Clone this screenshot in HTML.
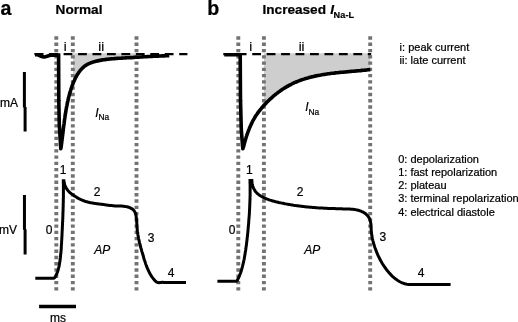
<!DOCTYPE html>
<html>
<head>
<meta charset="utf-8">
<title>Late sodium current</title>
<style>
html,body{margin:0;padding:0;background:#fff;}
body{width:518px;height:322px;overflow:hidden;}
svg{display:block;}
text{font-family:"Liberation Sans",Arial,Helvetica,sans-serif;fill:#000;stroke:#000;stroke-width:0.22px;}
.dot{stroke:#737373;stroke-width:3.9;stroke-dasharray:3.35 2.92;fill:none;}
.cur{stroke:#000;stroke-width:3.6;fill:none;stroke-linecap:butt;stroke-linejoin:round;}
.ap{stroke:#000;stroke-width:3.0;fill:none;stroke-linecap:butt;stroke-linejoin:bevel;}
.dash{stroke:#000;stroke-width:2.4;stroke-dasharray:8.8 5.65;fill:none;}
.bar{stroke:#000;stroke-width:3.0;fill:none;}
.lbl{font-size:12px;}
.leg{font-size:11px;}
.sub{font-size:8.4px;font-style:normal;}
.ttl{font-size:13.6px;font-weight:bold;}
.pan{font-size:19.6px;font-weight:bold;}
</style>
</head>
<body>
<svg width="518" height="322" viewBox="0 0 518 322">
<rect width="518" height="322" fill="#fff"/>

<!-- panel titles -->
<text class="pan" x="0.4" y="14.7">a</text>
<text class="ttl" x="55.6" y="13.9">Normal</text>
<text class="pan" x="207.3" y="14.6">b</text>
<text class="ttl" x="262.5" y="14.3">Increased <tspan font-style="italic" dx="0.6">I</tspan></text>
<text x="333.6" y="17.7" font-size="9.1" font-weight="bold" letter-spacing="0.1">Na-L</text>

<!-- shaded areas -->
<path d="M73.1,53.3 L136.8,53.3 L136.8,57.3 L136.5,57.3 L135.3,57.3 L134.1,57.4 L132.9,57.5 L131.6,57.6 L130.4,57.6 L129.2,57.7 L128.0,57.8 L126.8,57.8 L125.6,57.9 L124.4,58.0 L123.2,58.0 L121.9,58.1 L120.7,58.2 L119.5,58.2 L118.3,58.3 L117.1,58.4 L115.8,58.5 L114.6,58.6 L113.4,58.7 L112.2,58.8 L111.0,58.9 L109.8,59.0 L108.5,59.1 L107.3,59.2 L106.1,59.4 L104.9,59.6 L103.7,59.7 L102.5,59.9 L101.3,60.1 L100.1,60.4 L98.9,60.6 L97.7,60.9 L96.5,61.1 L95.3,61.4 L94.1,61.8 L93.0,62.1 L91.8,62.5 L90.7,62.9 L89.6,63.4 L88.5,63.9 L87.4,64.4 L86.4,65.0 L85.4,65.6 L84.4,66.3 L83.5,67.1 L82.6,67.9 L81.8,68.7 L81.0,69.6 L80.2,70.5 L79.5,71.5 L78.8,72.4 L78.1,73.5 L77.4,74.5 L76.8,75.5 L76.2,76.6 L75.6,77.7 L75.1,78.7 L74.6,79.9 L74.1,81.0 L73.6,82.1 L73.1,83.2 Z" fill="#cecece"/>
<path d="M263.9,53.3 L370.3,53.3 L370.3,69.6 L370.3,69.6 L369.1,69.7 L367.9,69.8 L366.7,70.0 L365.5,70.1 L364.3,70.2 L363.1,70.3 L361.9,70.4 L360.7,70.6 L359.5,70.7 L358.3,70.8 L357.1,70.9 L355.9,71.0 L354.7,71.1 L353.5,71.2 L352.3,71.3 L351.1,71.4 L349.9,71.5 L348.7,71.6 L347.5,71.7 L346.3,71.9 L345.0,72.0 L343.8,72.1 L342.6,72.2 L341.4,72.3 L340.2,72.4 L339.0,72.5 L337.8,72.7 L336.6,72.8 L335.3,72.9 L334.1,73.1 L332.9,73.2 L331.7,73.3 L330.5,73.5 L329.3,73.7 L328.1,73.8 L326.9,74.0 L325.7,74.2 L324.5,74.4 L323.3,74.5 L322.1,74.7 L320.9,75.0 L319.7,75.2 L318.5,75.4 L317.4,75.6 L316.2,75.9 L315.0,76.1 L313.8,76.4 L312.7,76.7 L311.5,76.9 L310.3,77.2 L309.2,77.5 L308.0,77.9 L306.9,78.2 L305.7,78.5 L304.6,78.9 L303.4,79.3 L302.3,79.6 L301.2,80.0 L300.1,80.4 L298.9,80.9 L297.8,81.3 L296.7,81.8 L295.6,82.2 L294.5,82.7 L293.4,83.2 L292.3,83.7 L291.3,84.3 L290.2,84.8 L289.1,85.4 L288.1,86.0 L287.0,86.5 L286.0,87.2 L284.9,87.8 L283.9,88.4 L282.9,89.1 L281.8,89.8 L280.8,90.5 L279.8,91.2 L278.8,91.9 L277.9,92.6 L276.9,93.4 L275.9,94.1 L275.0,94.9 L274.0,95.7 L273.1,96.4 L272.2,97.3 L271.3,98.1 L270.4,98.9 L269.5,99.7 L268.6,100.6 L267.7,101.4 L266.8,102.3 L266.0,103.2 L265.2,104.1 L264.3,104.9 L263.9,105.2 Z" fill="#cecece"/>

<!-- dotted verticals panel a -->
<path class="dot" d="M56.3,36.35 V290.5"/>
<path class="dot" d="M72.8,36.35 V290.5"/>
<path class="dot" d="M136.5,36.35 V290.5"/>
<!-- dotted verticals panel b -->
<path class="dot" d="M238.3,36.35 V290.5"/>
<path class="dot" d="M263.9,36.35 V290.5"/>
<path class="dot" d="M370.2,36.35 V290.5"/>

<!-- dashed baselines -->
<path class="dash" d="M34.7,54.1 H187.4"/>
<path class="dash" d="M223.3,54.1 H371.2"/>

<!-- current traces -->
<path class="cur" style="stroke-linejoin:miter" d="M34.8,55.0 L35.7,54.7 L36.5,54.7 L37.4,54.8 L38.2,55.0 L39.0,55.4 L39.7,55.7 L40.5,56.1 L41.3,56.4 L42.1,56.7 L42.9,56.8 L43.7,56.9 L44.5,56.9 L45.4,56.7 L46.2,56.5 L47.0,56.3 L47.8,56.0 L48.6,55.7 L49.4,55.5 L50.2,55.3 L51.0,55.2 L51.9,55.1 L52.7,55.1 L53.5,55.1 L54.4,55.1 L55.2,55.1 L56.1,55.1 L56.9,55.1 L57.8,55.1 L58.6,55.1 L58.8,101"/>
<path class="cur" d="M58.8,100.0 L59.3,125.0 L60.8,148.8 L61.0,147.6 L61.2,146.4 L61.4,145.2 L61.5,144.0 L61.7,142.8 L61.8,141.5 L62.0,140.3 L62.1,139.1 L62.3,137.9 L62.4,136.7 L62.6,135.5 L62.7,134.3 L62.9,133.1 L63.0,131.9 L63.2,130.7 L63.3,129.5 L63.4,128.3 L63.6,127.1 L63.7,125.9 L63.9,124.7 L64.1,123.5 L64.2,122.3 L64.4,121.1 L64.5,119.9 L64.7,118.7 L64.9,117.5 L65.0,116.3 L65.2,115.1 L65.4,113.9 L65.6,112.7 L65.8,111.5 L66.0,110.3 L66.2,109.2 L66.4,108.0 L66.6,106.8 L66.9,105.6 L67.1,104.4 L67.3,103.2 L67.6,102.0 L67.9,100.9 L68.1,99.7 L68.4,98.5 L68.7,97.3 L69.0,96.1 L69.3,94.9 L69.6,93.8 L70.0,92.6 L70.3,91.4 L70.7,90.2 L71.0,89.0 L71.4,87.9 L71.8,86.7 L72.2,85.5 L72.7,84.4 L73.1,83.2 L73.6,82.1 L74.1,81.0 L74.6,79.9 L75.1,78.7 L75.6,77.7 L76.2,76.6 L76.8,75.5 L77.4,74.5 L78.1,73.5 L78.8,72.4 L79.5,71.5 L80.2,70.5 L81.0,69.6 L81.8,68.7 L82.6,67.9 L83.5,67.1 L84.4,66.3 L85.4,65.6 L86.4,65.0 L87.4,64.4 L88.5,63.9 L89.6,63.4 L90.7,62.9 L91.8,62.5 L93.0,62.1 L94.1,61.8 L95.3,61.4 L96.5,61.1 L97.7,60.9 L98.9,60.6 L100.1,60.4 L101.3,60.1 L102.5,59.9 L103.7,59.7 L104.9,59.6 L106.1,59.4 L107.3,59.2 L108.5,59.1 L109.8,59.0 L111.0,58.9 L112.2,58.8 L113.4,58.7 L114.6,58.6 L115.8,58.5 L117.1,58.4 L118.3,58.3 L119.5,58.2 L120.7,58.2 L121.9,58.1 L123.2,58.0 L124.4,58.0 L125.6,57.9 L126.8,57.8 L128.0,57.8 L129.2,57.7 L130.4,57.6 L131.6,57.6 L132.9,57.5 L134.1,57.4 L135.3,57.3 L136.5,57.3 L137.7,57.2 L138.9,57.1 L140.1,57.0 L141.3,57.0 L142.5,56.9 L143.7,56.8 L144.9,56.8 L146.1,56.7 L147.4,56.6 L148.6,56.5 L149.8,56.5 L151.0,56.4 L152.2,56.4 L153.4,56.3 L154.6,56.2 L155.8,56.2 L157.0,56.1 L158.2,56.1 L159.5,56.0 L160.7,56.0 L161.9,55.9 L163.1,55.9 L164.3,55.9 L165.5,55.8 L166.8,55.8 L168.0,55.8 L169.2,55.7"/>
<path class="cur" style="stroke-linejoin:miter" d="M224.3,54.7 L240.2,54.8 L240.5,101"/>
<path class="cur" d="M240.5,100.0 L241.3,130.0 L242.8,148.8 L243.2,147.7 L243.6,146.5 L243.9,145.3 L244.2,144.2 L244.5,143.0 L244.8,141.8 L245.2,140.6 L245.5,139.5 L245.9,138.3 L246.2,137.1 L246.6,136.0 L247.0,134.8 L247.4,133.7 L247.8,132.5 L248.2,131.4 L248.6,130.3 L249.1,129.1 L249.5,128.0 L250.0,126.9 L250.5,125.8 L251.0,124.7 L251.5,123.6 L252.0,122.6 L252.5,121.5 L253.1,120.4 L253.7,119.4 L254.3,118.4 L254.9,117.3 L255.5,116.3 L256.2,115.3 L256.9,114.3 L257.5,113.4 L258.2,112.4 L258.9,111.4 L259.7,110.5 L260.4,109.5 L261.2,108.6 L261.9,107.7 L262.7,106.8 L263.5,105.8 L264.3,104.9 L265.2,104.1 L266.0,103.2 L266.8,102.3 L267.7,101.4 L268.6,100.6 L269.5,99.7 L270.4,98.9 L271.3,98.1 L272.2,97.3 L273.1,96.4 L274.0,95.7 L275.0,94.9 L275.9,94.1 L276.9,93.4 L277.9,92.6 L278.8,91.9 L279.8,91.2 L280.8,90.5 L281.8,89.8 L282.9,89.1 L283.9,88.4 L284.9,87.8 L286.0,87.2 L287.0,86.5 L288.1,86.0 L289.1,85.4 L290.2,84.8 L291.3,84.3 L292.3,83.7 L293.4,83.2 L294.5,82.7 L295.6,82.2 L296.7,81.8 L297.8,81.3 L298.9,80.9 L300.1,80.4 L301.2,80.0 L302.3,79.6 L303.4,79.3 L304.6,78.9 L305.7,78.5 L306.9,78.2 L308.0,77.9 L309.2,77.5 L310.3,77.2 L311.5,76.9 L312.7,76.7 L313.8,76.4 L315.0,76.1 L316.2,75.9 L317.4,75.6 L318.5,75.4 L319.7,75.2 L320.9,75.0 L322.1,74.7 L323.3,74.5 L324.5,74.4 L325.7,74.2 L326.9,74.0 L328.1,73.8 L329.3,73.7 L330.5,73.5 L331.7,73.3 L332.9,73.2 L334.1,73.1 L335.3,72.9 L336.6,72.8 L337.8,72.7 L339.0,72.5 L340.2,72.4 L341.4,72.3 L342.6,72.2 L343.8,72.1 L345.0,72.0 L346.3,71.9 L347.5,71.7 L348.7,71.6 L349.9,71.5 L351.1,71.4 L352.3,71.3 L353.5,71.2 L354.7,71.1 L355.9,71.0 L357.1,70.9 L358.3,70.8 L359.5,70.7 L360.7,70.6 L361.9,70.4 L363.1,70.3 L364.3,70.2 L365.5,70.1 L366.7,70.0 L367.9,69.8 L369.1,69.7 L370.3,69.6"/>
<!-- action potentials -->
<path class="ap" d="M35.3,278.3 L54.0,278.3 L54.9,277.4 L55.5,276.4 L56.1,275.3 L56.6,274.2 L57.0,273.1 L57.5,272.0 L57.9,270.8 L58.2,269.7 L58.5,268.5 L58.8,267.3 L59.1,266.1 L59.3,264.9 L59.5,263.7 L59.7,262.5 L59.9,261.3 L60.1,260.1 L60.2,258.9 L60.4,257.7 L60.5,256.4 L60.6,255.2 L60.7,254.0 L60.9,252.8 L61.0,251.6 L61.1,250.3 L61.2,249.1 L61.3,247.9 L61.3,246.6 L61.4,245.4 L61.5,244.2 L61.6,243.0 L61.6,241.7 L61.7,240.5 L61.8,239.3 L61.8,238.1 L61.9,236.8 L62.0,235.6 L62.0,234.4 L62.1,233.1 L62.1,231.9 L62.2,230.7 L62.3,229.5 L62.3,228.2 L62.4,227.0 L62.4,225.8 L62.5,224.6 L62.5,223.4 L62.6,222.1 L62.7,220.9 L62.7,219.7 L62.8,218.5 L62.8,217.2 L62.9,216.0 L62.9,214.8 L62.9,213.6 L63.0,212.4 L63.0,211.1 L63.1,209.9 L63.1,208.7 L63.1,207.5 L63.2,206.3 L63.2,205.0 L63.2,203.8 L63.3,202.6 L63.3,201.4 L63.3,200.1 L63.3,198.9 L63.4,197.7 L63.4,196.5 L63.4,195.3 L63.4,194.0 L63.4,192.8 L63.4,191.6 L63.4,190.4 L63.4,189.1 L63.4,187.9 L63.4,186.7 L63.4,185.4 L63.4,184.2 L63.3,183.0 L63.3,181.8 L63.3,180.5 L63.3,179.3 M63.8,179.3 L63.8,180.3 L63.9,181.3 L64.1,182.3 L64.3,183.3 L64.6,184.3 L64.9,185.3 L65.3,186.2 L65.7,187.1 L66.2,188.0 L66.7,188.9 L67.3,189.7 L67.9,190.5 L68.6,191.2 L69.3,192.0 L70.0,192.7 L70.8,193.3 L71.6,193.9 L72.4,194.6 L73.2,195.1 L74.1,195.7 L74.9,196.3 L75.8,196.8 L76.6,197.3 L77.5,197.9 L78.4,198.4 L79.3,198.8 L80.2,199.3 L81.1,199.7 L82.0,200.1 L82.9,200.5 L83.9,200.8 L84.8,201.2 L85.8,201.5 L86.7,201.7 L87.7,202.0 L88.7,202.2 L89.7,202.5 L90.7,202.7 L91.7,202.9 L92.7,203.0 L93.7,203.2 L94.7,203.4 L95.7,203.5 L96.7,203.7 L97.7,203.8 L98.7,203.9 L99.7,204.1 L100.7,204.2 L101.8,204.3 L102.8,204.5 L103.8,204.6 L104.8,204.7 L105.8,204.9 L106.7,205.0 L107.7,205.2 L108.7,205.3 L109.7,205.4 L110.7,205.5 L111.7,205.6 L112.7,205.7 L113.7,205.8 L114.7,205.9 L115.8,205.9 L116.8,205.9 L117.8,206.0 L118.8,206.0 L119.8,206.0 L120.8,206.1 L121.8,206.1 L122.9,206.2 L123.9,206.3 L124.9,206.4 L125.9,206.6 L126.9,206.8 L127.8,207.0 L128.8,207.3 L129.8,207.7 L130.7,208.1 L131.6,208.6 L132.5,209.1 L133.2,209.8 L133.9,210.5 L134.5,211.3 L134.9,212.1 L135.3,213.0 L135.6,214.0 L135.9,215.0 L136.1,216.0 L136.2,217.1 L136.4,218.1 L136.5,219.2 L136.6,220.2 L136.7,221.2 L136.7,222.2 L136.8,223.3 L136.9,224.3 L136.9,225.3 L137.0,226.3 L137.1,227.3 L137.1,228.3 L137.2,229.3 L137.3,230.3 L137.4,231.2 L137.6,232.2 L137.7,233.2 L137.8,234.2 L138.0,235.2 L138.2,236.2 L138.3,237.2 L138.5,238.1 L138.7,239.1 L139.0,240.1 L139.2,241.1 L139.4,242.1 L139.6,243.1 L139.9,244.0 L140.1,245.0 L140.4,246.0 L140.6,247.0 L140.9,248.0 L141.2,248.9 L141.5,249.9 L141.7,250.9 L142.0,251.9 L142.3,252.8 L142.6,253.8 L142.9,254.8 L143.2,255.8 L143.5,256.8 L143.7,257.7 L144.0,258.7 L144.3,259.7 L144.7,260.7 L145.0,261.6 L145.3,262.6 L145.6,263.6 L145.9,264.5 L146.3,265.5 L146.6,266.4 L147.0,267.4 L147.4,268.3 L147.8,269.2 L148.2,270.1 L148.6,271.0 L149.1,271.9 L149.5,272.8 L150.0,273.7 L150.5,274.6 L151.0,275.4 L151.6,276.3 L152.1,277.1 L152.7,277.9 L153.3,278.7 L154.0,279.5 L154.6,280.3 L155.3,281.0 L156.1,281.7 L156.9,282.2 L157.9,282.6 L158.9,282.7 L160.0,282.6 L161.2,282.5 L162.3,282.3 L163.3,282.3 L164.0,282.6 L186.0,282.6"/>
<path class="ap" d="M217.4,281.3 L236.6,281.3 L237.4,280.3 L237.9,279.2 L238.4,278.1 L238.9,277.0 L239.4,275.9 L239.8,274.7 L240.3,273.6 L240.7,272.5 L241.1,271.3 L241.4,270.2 L241.8,269.0 L242.1,267.8 L242.4,266.7 L242.7,265.5 L243.0,264.3 L243.3,263.1 L243.6,261.9 L243.8,260.7 L244.1,259.5 L244.3,258.3 L244.5,257.1 L244.7,255.9 L244.9,254.7 L245.1,253.5 L245.3,252.3 L245.5,251.1 L245.7,249.9 L245.9,248.6 L246.0,247.4 L246.2,246.2 L246.4,245.0 L246.5,243.8 L246.7,242.6 L246.8,241.3 L247.0,240.1 L247.1,238.9 L247.2,237.7 L247.4,236.5 L247.5,235.3 L247.6,234.0 L247.8,232.8 L247.9,231.6 L248.0,230.4 L248.1,229.2 L248.2,227.9 L248.3,226.7 L248.4,225.5 L248.5,224.3 L248.7,223.1 L248.7,221.8 L248.8,220.6 L248.9,219.4 L249.0,218.2 L249.1,217.0 L249.2,215.8 L249.3,214.5 L249.4,213.3 L249.4,212.1 L249.5,210.9 L249.6,209.7 L249.6,208.4 L249.7,207.2 L249.7,206.0 L249.8,204.8 L249.8,203.6 L249.9,202.3 L249.9,201.1 L250.0,199.9 L250.0,198.7 L250.0,197.5 L250.1,196.2 L250.1,195.0 L250.1,193.8 L250.1,192.6 L250.1,191.4 L250.1,190.1 L250.1,188.9 L250.1,187.7 L250.1,186.5 L250.1,185.2 L250.1,184.0 L250.0,182.8 L250.0,181.5 L250.0,180.3 L250.0,179.1 M251.8,179.1 L251.8,180.1 L251.9,181.1 L252.0,182.1 L252.1,183.2 L252.3,184.2 L252.5,185.2 L252.8,186.2 L253.1,187.1 L253.5,188.1 L253.9,189.0 L254.4,189.8 L254.9,190.7 L255.5,191.5 L256.1,192.2 L256.8,192.9 L257.5,193.6 L258.3,194.3 L259.1,194.9 L259.9,195.4 L260.8,196.0 L261.6,196.5 L262.5,197.0 L263.4,197.5 L264.4,197.9 L265.3,198.3 L266.2,198.7 L267.2,199.1 L268.1,199.4 L269.1,199.8 L270.0,200.1 L271.0,200.4 L272.0,200.7 L273.0,201.0 L274.0,201.2 L274.9,201.5 L275.9,201.8 L276.9,202.0 L277.9,202.2 L278.9,202.5 L279.9,202.7 L280.9,202.9 L281.9,203.1 L282.9,203.3 L283.9,203.5 L284.8,203.7 L285.8,203.9 L286.8,204.1 L287.8,204.3 L288.8,204.5 L289.8,204.6 L290.8,204.8 L291.8,205.0 L292.8,205.1 L293.8,205.3 L294.8,205.4 L295.8,205.6 L296.8,205.7 L297.8,205.8 L298.8,206.0 L299.8,206.1 L300.8,206.2 L301.7,206.3 L302.7,206.5 L303.7,206.6 L304.7,206.7 L305.7,206.8 L306.7,206.9 L307.7,207.0 L308.7,207.1 L309.7,207.2 L310.7,207.3 L311.7,207.3 L312.7,207.4 L313.7,207.5 L314.7,207.6 L315.7,207.7 L316.7,207.7 L317.7,207.8 L318.8,207.9 L319.8,207.9 L320.8,208.0 L321.8,208.0 L322.8,208.1 L323.8,208.2 L324.8,208.2 L325.8,208.3 L326.8,208.3 L327.8,208.4 L328.8,208.4 L329.8,208.4 L330.8,208.5 L331.8,208.5 L332.9,208.6 L333.9,208.6 L334.9,208.6 L335.9,208.7 L336.9,208.7 L337.9,208.7 L338.9,208.8 L339.9,208.8 L341.0,208.8 L342.0,208.8 L343.0,208.9 L344.0,208.9 L345.0,208.9 L346.1,208.9 L347.1,209.0 L348.1,209.0 L349.1,209.0 L350.1,209.1 L351.1,209.2 L352.1,209.2 L353.2,209.3 L354.2,209.5 L355.2,209.6 L356.1,209.8 L357.1,210.0 L358.1,210.2 L359.1,210.5 L360.0,210.8 L361.0,211.2 L361.9,211.6 L362.9,212.0 L363.8,212.5 L364.6,213.1 L365.5,213.6 L366.2,214.3 L367.0,215.0 L367.6,215.7 L368.2,216.5 L368.8,217.3 L369.3,218.1 L369.7,219.0 L370.0,220.0 L370.3,220.9 L370.5,221.9 L370.7,222.9 L370.9,223.9 L371.0,224.9 L371.0,225.9 L371.1,226.9 L371.1,228.0 L371.2,229.0 L371.2,230.0 L371.3,231.1 L371.4,232.1 L371.5,233.1 L371.6,234.1 L371.8,235.1 L371.9,236.1 L372.1,237.1 L372.3,238.1 L372.5,239.1 L372.8,240.1 L373.0,241.1 L373.3,242.1 L373.5,243.0 L373.8,244.0 L374.1,244.9 L374.4,245.9 L374.7,246.9 L375.0,247.8 L375.4,248.8 L375.7,249.7 L376.1,250.6 L376.4,251.6 L376.8,252.5 L377.2,253.4 L377.6,254.4 L378.0,255.3 L378.4,256.2 L378.9,257.1 L379.3,258.0 L379.8,258.9 L380.2,259.8 L380.7,260.7 L381.2,261.5 L381.7,262.4 L382.2,263.3 L382.7,264.1 L383.3,265.0 L383.8,265.8 L384.4,266.7 L385.0,267.5 L385.6,268.3 L386.2,269.2 L386.8,270.0 L387.4,270.8 L388.1,271.6 L388.7,272.4 L389.4,273.1 L390.1,273.9 L390.8,274.6 L391.5,275.4 L392.2,276.1 L393.0,276.8 L393.7,277.5 L394.5,278.1 L395.3,278.7 L396.1,279.3 L396.9,279.9 L397.7,280.5 L398.6,281.0 L399.4,281.5 L400.3,282.0 L401.2,282.4 L402.1,282.8 L403.0,283.1 L403.9,283.5 L404.9,283.8 L405.9,284.0 L406.8,284.2 L407.8,284.4 L408.9,284.5 L409.9,284.6 L410.9,284.6 L412.0,284.6 L413.0,284.5 L450.6,284.5"/>

<!-- scale bars -->
<path class="bar" d="M24.4,71.9 V107.6 M25.1,107.0 V131.5"/>
<path class="bar" d="M24.45,194.9 V229.8 M25.1,229.2 V254.5"/>
<path class="bar" style="stroke-width:3.4" d="M39.1,306.5 H76"/>

<!-- axis unit labels -->
<text class="lbl" x="0" y="106.8">mA</text>
<text class="lbl" x="-0.9" y="234.4">mV</text>
<text class="lbl" x="49.9" y="321.5">ms</text>

<!-- phase markers for current -->
<text class="lbl" x="63.65" y="51.3" style="font-size:13px">i</text>
<text class="lbl" x="98.25" y="51.3" style="font-size:13px">ii</text>
<text class="lbl" x="249.35" y="51.3" style="font-size:13px">i</text>
<text class="lbl" x="298.7" y="51.3" style="font-size:13px">ii</text>

<text class="lbl" x="95.2" y="117" font-style="italic">I</text>
<text class="sub" x="98.5" y="120.1">Na</text>
<text class="lbl" x="305.2" y="110.7" font-style="italic">I</text>
<text class="sub" x="308.5" y="114.8">Na</text>

<text class="lbl" x="94.3" y="253.6" font-style="italic">AP</text>
<text class="lbl" x="304.3" y="253.6" font-style="italic">AP</text>

<!-- AP phase numbers -->
<text class="lbl" x="59.7" y="174">1</text>
<text class="lbl" x="93.8" y="196">2</text>
<text class="lbl" x="147.8" y="241.5">3</text>
<text class="lbl" x="167.8" y="276.8">4</text>
<text class="lbl" x="45.7" y="234.1">0</text>

<text class="lbl" x="246" y="174">1</text>
<text class="lbl" x="296.7" y="195.6">2</text>
<text class="lbl" x="379.4" y="241.4">3</text>
<text class="lbl" x="417.8" y="277">4</text>
<text class="lbl" x="228.7" y="234.1">0</text>

<!-- legends -->
<text class="leg" x="399.6" y="51.0">i: peak current</text>
<text class="leg" x="399.6" y="64.1">ii: late current</text>

<text class="leg" x="398.2" y="162.7">0: depolarization</text>
<text class="leg" x="398.2" y="175.9">1: fast repolarization</text>
<text class="leg" x="398.2" y="189.1">2: plateau</text>
<text class="leg" x="398.2" y="202.4">3: terminal repolarization</text>
<text class="leg" x="398.2" y="215.7">4: electrical diastole</text>
</svg>
</body>
</html>
